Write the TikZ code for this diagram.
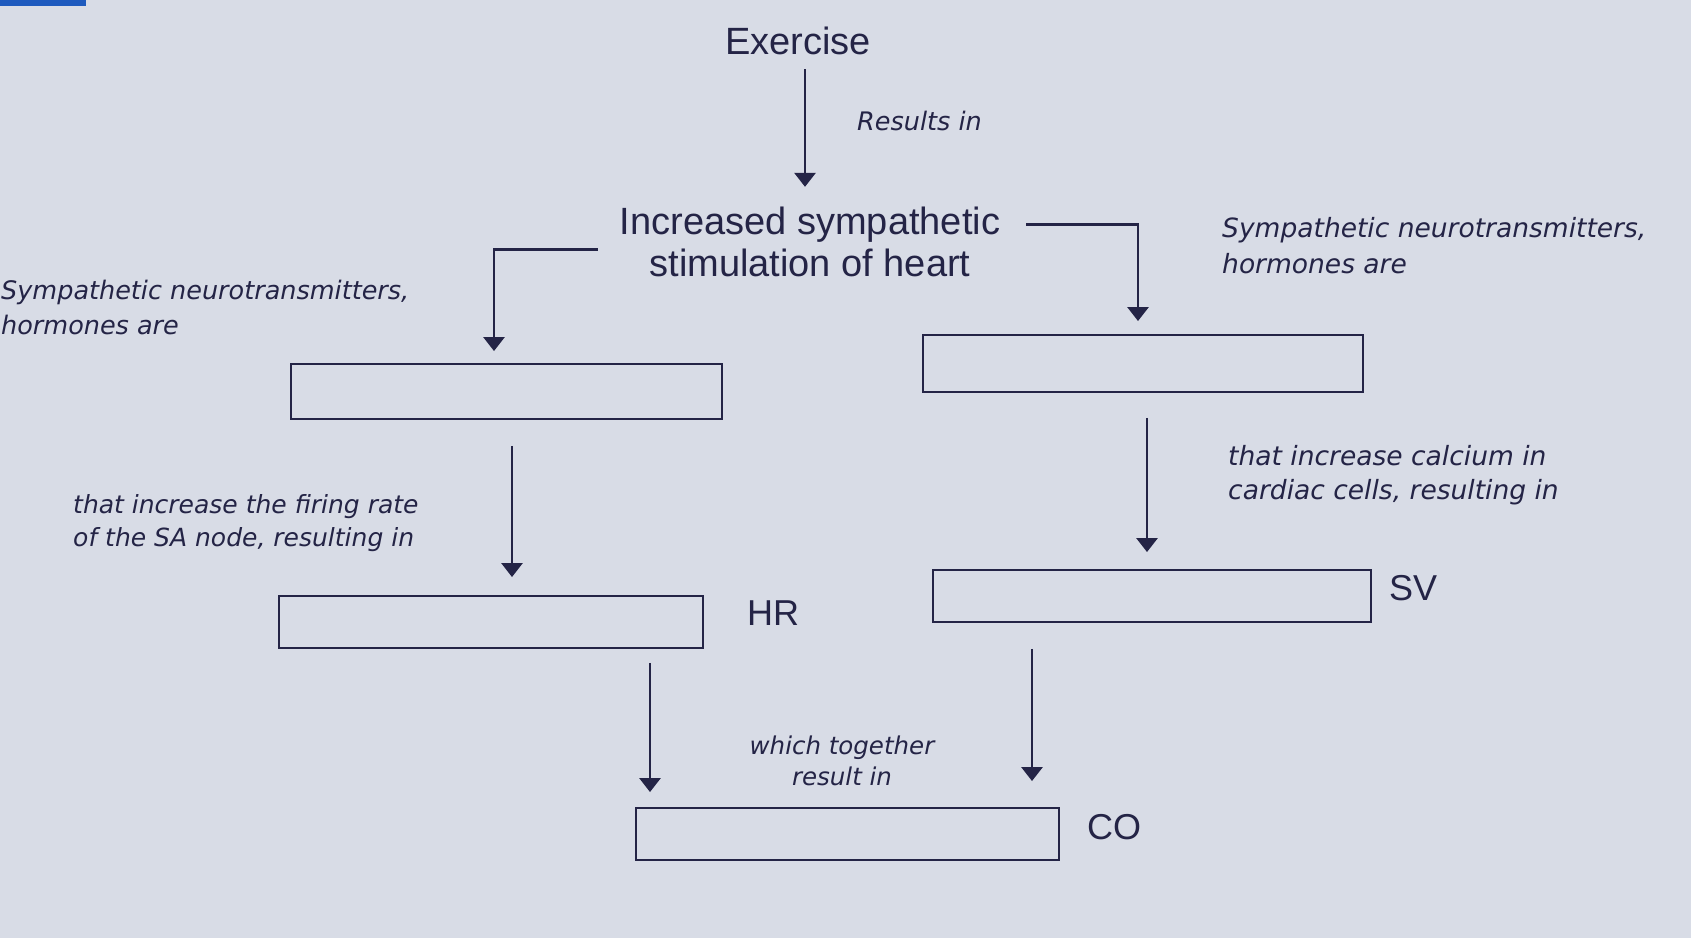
\documentclass[tikz,border=0pt]{standalone}
\usepackage{fontspec}
\setmainfont{Liberation Sans}
\newfontfamily\labfont{DejaVu Sans}
\usetikzlibrary{arrows.meta}
\definecolor{bg}{RGB}{216,220,230}
\definecolor{ink}{RGB}{36,36,70}
\definecolor{topbar}{RGB}{30,90,190}
\begin{document}
\begin{tikzpicture}[x=1pt,y=-1pt,
  conn/.style={draw=ink, line width=2.8pt, -{Triangle[width=21pt,length=14pt]}},
  blank/.style={draw=ink, line width=1.9pt, inner sep=0pt},
  title/.style={text=ink, font=\fontsize{38}{42}\selectfont, inner sep=0pt},
  lab/.style={text=ink, inner sep=0pt, align=left},
]
\fill[bg] (0,0) rectangle (1691,938);
\useasboundingbox (0,0) rectangle (1691,938);
\fill[topbar] (0,0) rectangle (86,6);

% titles
\node[title] (ex) at (798,41) {Exercise};
\node[title, align=center] (inc) at (810,242) {Increased sympathetic\\stimulation of heart};

% blank boxes
\node[blank, minimum width=431pt, minimum height=55pt] (b1) at (506.5,391.5) {};
\node[blank, minimum width=440pt, minimum height=57pt] (b2) at (1143,363.5) {};
\node[blank, minimum width=424pt, minimum height=52pt] (b3) at (491,622) {};
\node[blank, minimum width=438pt, minimum height=52pt] (b4) at (1152,596) {};
\node[blank, minimum width=423pt, minimum height=52pt] (b5) at (847.5,834) {};

% box names
\node[title, font=\fontsize{36}{40}\selectfont] (hr) at (773,613) {HR};
\node[title, font=\fontsize{36}{40}\selectfont] (sv) at (1413,588) {SV};
\node[title, font=\fontsize{36}{40}\selectfont] (co) at (1114,827) {CO};

% labels
\node[lab, anchor=west, font=\labfont\itshape\fontsize{25.5}{34}\selectfont] (res) at (857,121) {Results in};
\node[lab, anchor=west, font=\labfont\itshape\fontsize{25.5}{35}\selectfont] (ltx) at (1,307) {Sympathetic neurotransmitters,\\hormones are};
\node[lab, anchor=west, font=\labfont\itshape\fontsize{26.5}{36}\selectfont] (rtx) at (1222,246) {Sympathetic neurotransmitters,\\hormones are};
\node[lab, anchor=west, font=\labfont\itshape\fontsize{25}{33}\selectfont] (fire) at (73,523) {that increase the firing rate\\of the SA node, resulting in};
\node[lab, anchor=west, font=\labfont\itshape\fontsize{26.5}{34}\selectfont] (calc) at (1228,475) {that increase calcium in\\cardiac cells, resulting in};
\node[lab, align=center, font=\labfont\itshape\fontsize{24.5}{31}\selectfont] (tog) at (842,761) {which together\\result in};

% connectors
\draw[conn] ([xshift=7pt,yshift=-14pt]ex.south) -- ([xshift=-5pt,yshift=20pt]inc.north);
\draw[conn] ([xshift=-22pt,yshift=-7.5pt]inc.west) -| ([xshift=-12.5pt,yshift=12pt]b1.north);
\draw[conn] ([xshift=26pt,yshift=17.5pt]inc.east) -| ([xshift=-5pt,yshift=13pt]b2.north);
\draw[conn] ([xshift=5.5pt,yshift=-26pt]b1.south) -- ([xshift=21pt,yshift=18pt]b3.north);
\draw[conn] ([xshift=4pt,yshift=-25pt]b2.south) -- ([xshift=-5pt,yshift=17pt]b4.north);
\draw[conn] ([xshift=159pt,yshift=-14pt]b3.south) -- ([xshift=-197.5pt,yshift=15pt]b5.north);
\draw[conn] ([xshift=-120pt,yshift=-26pt]b4.south) -- ([xshift=184.5pt,yshift=26pt]b5.north);
\end{tikzpicture}
\end{document}
